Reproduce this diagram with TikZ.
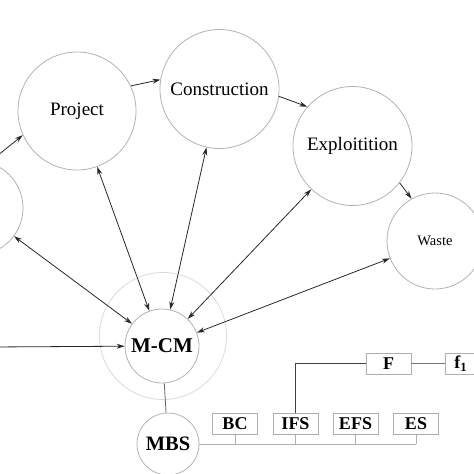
\documentclass[tikz,border=0pt]{standalone}
\usepackage{fontspec}
\setmainfont{Liberation Serif}
\usetikzlibrary{shapes.geometric, arrows.meta}
\definecolor{circgray}{RGB}{178,178,178}
\definecolor{halogray}{RGB}{218,218,218}
\definecolor{boxgray}{RGB}{175,175,175}
\definecolor{arrowgray}{RGB}{40,40,40}
\tikzstyle{arrow} = [line width=0.8pt,draw=arrowgray,->,>={Stealth[length=8pt,width=5pt]}]
\tikzstyle{twoway} = [arrow,<->]
\tikzstyle{stage} = [circle,draw=circgray,line width=0.8pt,inner sep=0pt,font=\fontsize{19}{19}\selectfont]
\tikzstyle{boxnode} = [rectangle,draw=boxgray,line width=0.8pt,minimum width=45pt,minimum height=21pt,inner sep=0pt,font=\bfseries\fontsize{18}{18}\selectfont]
\tikzstyle{bus} = [line width=0.8pt,draw=boxgray]

\begin{document}
\begin{tikzpicture}[x=1pt,y=-1pt]
    \useasboundingbox (0,0) rectangle (474,474);
    \clip (0,0) rectangle (474,474);
    % life cycle stages
    \node[stage,minimum size=94pt] (prev) at (-24,208) {};
    \node[stage,minimum size=118pt] (project) at (77,111) {Project};
    \node[stage,minimum size=119pt] (construction) at (219.5,89) {Construction};
    \node[stage,minimum size=119pt] (exploit) at (352.5,146) {Exploitition};
    \node[stage,minimum size=96pt,font=\fontsize{14.5}{14.5}\selectfont] (waste) at (435,241) {Waste};
    % model
    \node[circle,draw=halogray,line width=0.8pt,minimum size=127pt] (halo) at (163,336) {};
    \node[stage,minimum size=74pt,font=\bfseries\fontsize{21}{21}\selectfont] (mcm) at (162,346) {M-CM};
    \node[stage,minimum size=62pt,font=\bfseries\fontsize{20.5}{20.5}\selectfont] (mbs) at (168,444) {MBS};
    \coordinate (src) at (-10,347);
    % boxes
    \node[boxnode] (bc) at (235,423.5) {BC};
    \node[boxnode] (ifs) at (295.5,423.5) {IFS};
    \node[boxnode] (efs) at (355.5,423.5) {EFS};
    \node[boxnode] (es) at (416,423.5) {ES};
    \node[boxnode] (f) at (388.5,363.5) {F};
    \node[boxnode,anchor=west,text width=32pt,align=left,inner xsep=9pt] (f1) at (445,363.5) {f\textsubscript{1}};
    % flow between stages
    \draw[arrow] (prev.74) -- (project.204);
    \draw[arrow] (project.25) -- (construction.171);
    \draw[arrow] (construction.-7) -- (exploit.139);
    \draw[arrow] (exploit.-38) -- (waste.119);
    % links to the model
    \draw[twoway] (mcm) -- (prev);
    \draw[twoway] (mcm) -- (project);
    \draw[twoway] (mcm) -- (construction);
    \draw[twoway] (mcm) -- (exploit);
    \draw[twoway] (mcm) -- (waste);
    \draw[arrow] (src) -- (mcm);
    % structure below
    \draw[line width=0.8pt,draw=black!60] (mcm) -- (mbs);
    \draw[bus] (mbs.east) -- (es.south |- mbs.east);
    \foreach \b in {bc,ifs,efs,es}
        \draw[bus] (\b.south) -- (\b.south |- mbs.east);
    \draw[line width=0.8pt,draw=black!75] (ifs.north) |- (f.west);
    \draw[line width=0.8pt,draw=black!55] (f) -- (f1);
\end{tikzpicture}
\end{document}
